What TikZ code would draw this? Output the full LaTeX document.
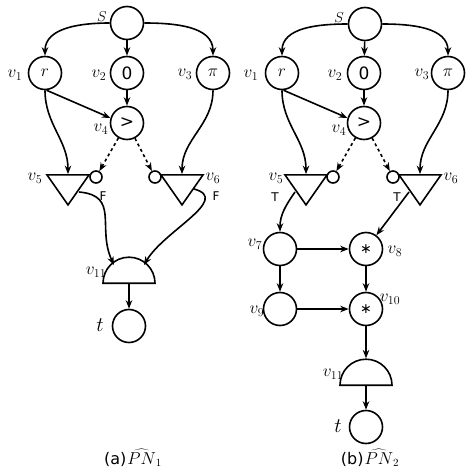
\documentclass[tikz,border=0pt]{standalone}
\usepackage{fontspec}
\setmainfont{DejaVu Sans}
\usetikzlibrary{arrows.meta,shapes,shapes.geometric,positioning,calc}

\begin{document}
\begin{tikzpicture}[->,>={Stealth[length=8.5pt,width=6.5pt]}, x=1pt, y=1pt, line width=1.6pt,
	place/.style={circle, draw, minimum size=33pt, inner sep=0pt, font=\fontsize{17}{20}\selectfont},
	gate/.style={isosceles triangle, isosceles triangle stretches, shape border rotate=270, draw, minimum width=42pt, minimum height=30pt, inner sep=0pt},
	inhib/.style={circle, draw, minimum size=12pt, inner sep=0pt},
	merge/.style={semicircle, draw, minimum width=44pt, minimum height=26pt, inner sep=0pt},
	lbl/.style={font=\fontsize{17}{20}\selectfont, inner sep=0pt},
	tag/.style={font=\fontsize{12}{14}\selectfont, inner sep=0pt}]

	\useasboundingbox (0,0) rectangle (474,-476);

	% (a) PN_1
	\node[place, shift = {(127, -23)}] (sA) {};
	\node[place, shift = {(45, -73)}] (v1A) {$r$};
	\node[place, shift = {(127, -73)}] (v2A) {0};
	\node[place, shift = {(213, -73)}] (v3A) {$\pi$};
	\node[place, shift = {(127, -123)}] (v4A) {>};
	\node[gate, anchor = apex] (v5A) at (68, -207) {};
	\node[gate, anchor = apex] (v6A) at (182, -207) {};
	\node[inhib, shift = {(96, -177)}] (c5A) {};
	\node[inhib, shift = {(155, -177)}] (c6A) {};
	\node[merge, anchor = chord center] (v11A) at (129, -284) {};
	\node[place, shift = {(129, -326)}] (tA) {};

	\node[lbl, font=\fontsize{15}{17}\selectfont, shift = {(102, -17)}] (lsA) {$S$};
	\node[lbl, shift = {(15, -75)}] (l1A) {$v_1$};
	\node[lbl, shift = {(99, -75)}] (l2A) {$v_2$};
	\node[lbl, shift = {(185, -74)}] (l3A) {$v_3$};
	\node[lbl, shift = {(101, -129)}] (l4A) {$v_4$};
	\node[lbl, shift = {(35, -178)}] (l5A) {$v_5$};
	\node[lbl, shift = {(213, -178)}] (l6A) {$v_6$};
	\node[lbl, shift = {(96, -272)}] (l11A) {$v_{11}$};
	\node[lbl, font=\fontsize{22}{24}\selectfont, shift = {(100, -325)}] (ltA) {$t$};
	\node[tag, shift = {(103, -196)}] (fA) {F};
	\node[tag, shift = {(216, -196)}] (gA) {F};
	\node[font=\fontsize{16}{18}\selectfont, shift = {(133, -458)}] (capA) {(a)\kern1pt$\widehat{PN}_{1}$};

	\path[->] (sA.west) edge [out=180, in=90] (v1A.north);
	\path[->] (sA) edge [] (v2A);
	\path[->] (sA.east) edge [out=0, in=90] (v3A.north);
	\path[->] (v2A) edge [] (v4A);
	\path[->] (v1A.-85) edge [] (v4A.163);
	\path[->] (v1A.south) edge [out=-90, in=90] (v5A.north);
	\path[->] (v3A.south) edge [out=-90, in=90] (v6A.north);
	\path[dashed,->] (v4A) edge [] (c5A);
	\path[dashed,->] (v4A) edge [] (c6A);
	\path[->] ($(v5A.apex) + (11, 15)$) edge [out=-5, in=115, looseness=1.3] ($(v11A.chord center) + (-15, 19)$);
	\path[->] ($(v6A.apex) + (12, 18)$) edge [out=-15, in=60, looseness=1.1] ($(v11A.chord center) + (15, 19)$);
	\path[->] (v11A.chord center) edge [] (tA);

	% (b) PN_2
	\node[place, shift = {(365, -24)}] (sB) {};
	\node[place, shift = {(282, -73)}] (v1B) {$r$};
	\node[place, shift = {(364, -73)}] (v2B) {0};
	\node[place, shift = {(448, -73)}] (v3B) {$\pi$};
	\node[place, shift = {(364, -123)}] (v4B) {>};
	\node[gate, anchor = apex] (v5B) at (306, -207) {};
	\node[gate, anchor = apex] (v6B) at (420, -207) {};
	\node[inhib, shift = {(333, -177)}] (c5B) {};
	\node[inhib, shift = {(393, -177)}] (c6B) {};
	\node[place, shift = {(280, -249)}] (v7B) {};
	\node[place, font=\fontsize{14}{16}\selectfont, shift = {(366, -249)}] (v8B) {∗};
	\node[place, shift = {(280, -309)}] (v9B) {};
	\node[place, font=\fontsize{14}{16}\selectfont, shift = {(366, -309)}] (v10B) {∗};
	\node[merge, anchor = chord center] (v11B) at (366, -386) {};
	\node[place, shift = {(366, -427)}] (tB) {};

	\node[lbl, font=\fontsize{15}{17}\selectfont, shift = {(339, -18)}] (lsB) {$S$};
	\node[lbl, shift = {(251, -75)}] (l1B) {$v_1$};
	\node[lbl, shift = {(335, -75)}] (l2B) {$v_2$};
	\node[lbl, shift = {(422, -74)}] (l3B) {$v_3$};
	\node[lbl, shift = {(339, -130)}] (l4B) {$v_4$};
	\node[lbl, shift = {(276, -178)}] (l5B) {$v_5$};
	\node[lbl, shift = {(451, -178)}] (l6B) {$v_6$};
	\node[lbl, shift = {(255, -244)}] (l7B) {$v_7$};
	\node[lbl, shift = {(395, -251)}] (l8B) {$v_8$};
	\node[lbl, shift = {(257, -311)}] (l9B) {$v_9$};
	\node[lbl, shift = {(390, -299)}] (l10B) {$v_{10}$};
	\node[lbl, shift = {(333, -374)}] (l11B) {$v_{11}$};
	\node[lbl, font=\fontsize{22}{24}\selectfont, shift = {(338, -426)}] (ltB) {$t$};
	\node[tag, shift = {(275, -197)}] (tT1B) {T};
	\node[tag, shift = {(397, -197)}] (tT2B) {T};
	\node[font=\fontsize{16}{18}\selectfont, shift = {(370, -458)}] (capB) {(b)\kern1pt$\widehat{PN}_{2}$};

	\path[->] (sB.west) edge [out=180, in=90] (v1B.north);
	\path[->] (sB) edge [] (v2B);
	\path[->] (sB.east) edge [out=0, in=90] (v3B.north);
	\path[->] (v2B) edge [] (v4B);
	\path[->] (v1B.-85) edge [] (v4B.163);
	\path[->] (v1B.south) edge [out=-90, in=90] (v5B.north);
	\path[->] (v3B.south) edge [out=-90, in=90] (v6B.north);
	\path[dashed,->] (v4B) edge [] (c5B);
	\path[dashed,->] (v4B) edge [] (c6B);
	\path[->] ($(v5B.apex) + (-11, 15)$) edge [out=-125, in=90] (v7B.north);
	\path[->] ($(v6B.apex) + (-11, 15)$) edge [] (v8B);
	\path[->] (v7B) edge [] (v8B);
	\path[->] (v7B) edge [] (v9B);
	\path[->] (v8B) edge [] (v10B);
	\path[->] (v9B) edge [] (v10B);
	\path[->] (v10B) edge [] (v11B.apex);
	\path[->] (v11B.chord center) edge [] (tB);
\end{tikzpicture}
\end{document}
